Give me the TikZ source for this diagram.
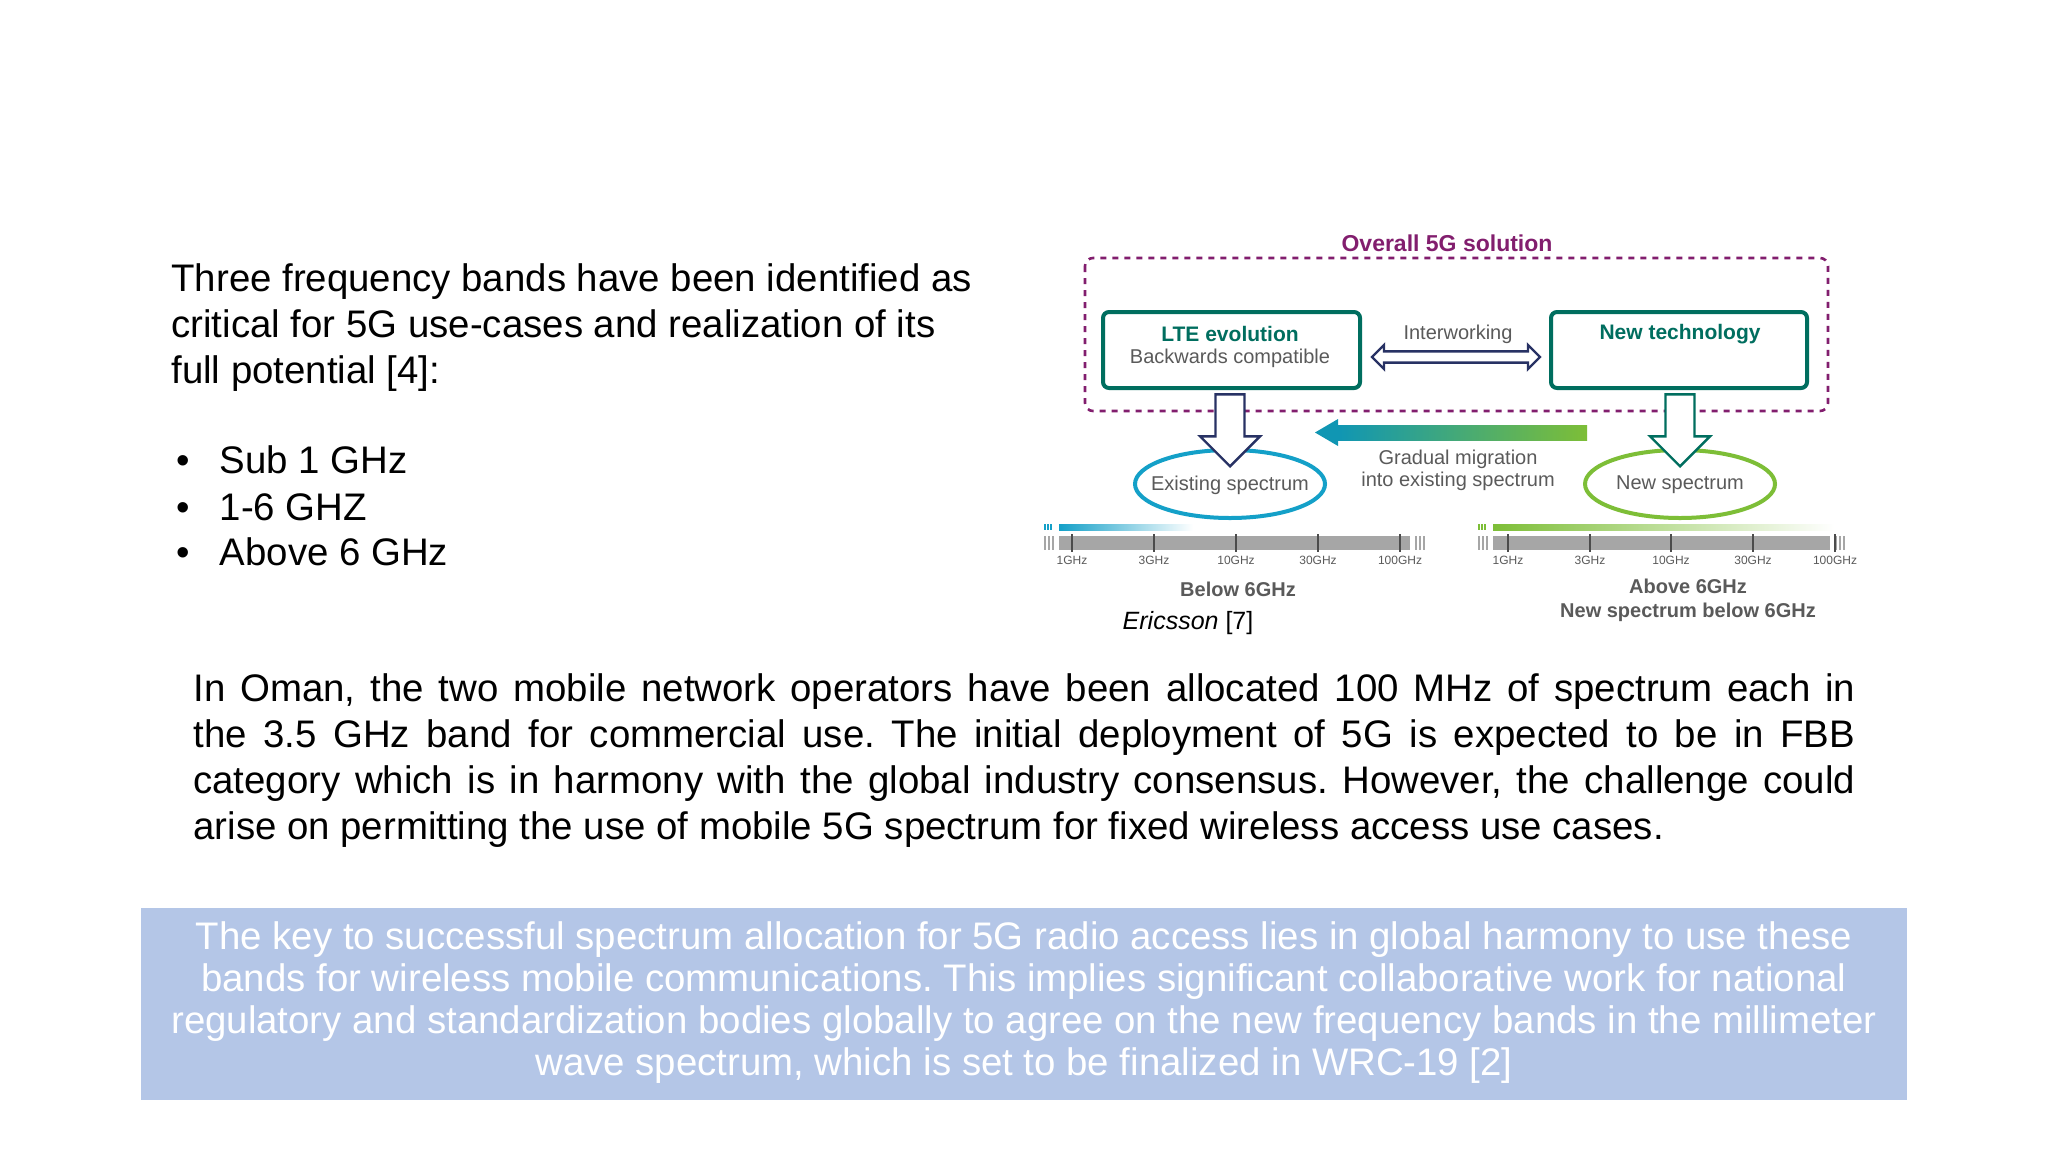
\documentclass[tikz,border=0pt]{standalone}
\usepackage{fontspec}
\setmainfont{Liberation Sans}
\usetikzlibrary{arrows.meta,shapes.arrows,shapes.geometric}
\definecolor{teal5}{RGB}{0,110,95}
\definecolor{navy5}{RGB}{40,50,100}
\definecolor{purp5}{RGB}{130,30,110}
\definecolor{cyan5}{RGB}{20,160,200}
\definecolor{green5}{RGB}{125,190,55}
\definecolor{gtext}{RGB}{90,90,90}
\definecolor{boxblue}{RGB}{180,198,231}
\frenchspacing
\begin{document}
\begin{tikzpicture}[x=0.5pt,y=-0.5pt,
  big/.style={font=\fontsize{19.2}{23}\selectfont,inner sep=0},
  dtext/.style={font=\fontsize{10}{12}\selectfont,text=gtext,inner sep=0},
  tbox/.style={draw=teal5,line width=2pt,rounded corners=3pt},
  darr/.style={single arrow,draw=navy5,fill=white,line width=1.2pt,shape border rotate=270,minimum height=36pt,minimum width=30pt,single arrow head extend=6pt,inner sep=5pt},
  ghz/.style={font=\fontsize{6}{7}\selectfont,text=gtext,inner sep=0},
  tlab/.style={font=\bfseries\fontsize{10.5}{12}\selectfont,text=teal5,inner sep=0}]
\useasboundingbox (0,0) rectangle (2048,1152);
\fill[white] (0,0) rectangle (2048,1152);
% left text
\node[big,anchor=north west,align=left] (intro) at (171,263) {Three frequency bands have been identified as\\critical for 5G use-cases and realization of its\\full potential [4]:};
\node[big,anchor=west] (b1) at (176,460) {\textbullet\hspace{15pt}Sub 1 GHz};
\node[big,anchor=west] (b2) at (176,507) {\textbullet\hspace{15pt}1-6 GHZ};
\node[big,anchor=west] (b3) at (176,552) {\textbullet\hspace{15pt}Above 6 GHz};
% paragraph
\node[big,anchor=north west,text width=831pt,align=justify] (para) at (193,673) {In Oman, the two mobile network operators have been allocated 100 MHz of spectrum each in\linebreak the 3.5 GHz band for commercial use. The initial deployment of 5G is expected to be in FBB\linebreak category which is in harmony with the global industry consensus. However, the challenge could\linebreak arise on permitting the use of mobile 5G spectrum for fixed wireless access use cases.};
% blue box
\fill[boxblue] (141,908) rectangle (1907,1100);
\node[font=\fontsize{19.2}{21}\selectfont,text=white,align=center,inner sep=0] (key) at (1024,1003) {The key to successful spectrum allocation for 5G radio access lies in global harmony to use these\\bands for wireless mobile communications. This implies significant collaborative work for national\\regulatory and standardization bodies globally to agree on the new frequency bands in the millimeter\\wave spectrum, which is set to be finalized in WRC-19 [2]};
% diagram
\node[font=\bfseries\fontsize{11.5}{13}\selectfont,text=purp5,inner sep=0] (title) at (1447,243) {Overall 5G solution};
\draw[purp5,dashed,line width=1.3pt,rounded corners=4pt] (1085,258) rectangle (1828,411);
\draw[tbox] (1103,312) rectangle (1360,388);
\draw[tbox] (1551,312) rectangle (1807,388);
\node[tlab] (lte) at (1230,334) {LTE evolution};
\node[dtext] (bc) at (1230,358) {Backwards compatible};
\node[tlab] (nt) at (1680,334) {New technology};
\node[dtext] (iw) at (1458,334) {Interworking};
\node[double arrow,draw=navy5,fill=white,line width=1.2pt,minimum height=84pt,minimum width=12pt,double arrow head extend=3pt,inner sep=2pt] (dbl) at (1456,357) {};
\node[draw=cyan5,line width=2pt,ellipse,minimum width=95pt,minimum height=34pt] (ex) at (1230,484) {};
\node[dtext] (ext) at (1230,485) {Existing spectrum};
\node[draw=green5,line width=2pt,ellipse,minimum width=95pt,minimum height=34pt] (ns) at (1680,484) {};
\node[dtext] (nst) at (1680,485) {New spectrum};
\node[darr,anchor=tip] (a1) at (1230,468) {};
\node[darr,anchor=tip,draw=teal5] (a2) at (1680,468) {};
\shade[left color=cyan5!80!teal5,right color=green5] (1338,425) rectangle (1587,440);
\fill[cyan5!80!teal5] (1338,419) -- (1315,432.5) -- (1338,446) -- cycle;
\node[dtext,align=center,font=\fontsize{10}{11}\selectfont] (gm) at (1458,470) {Gradual migration\\into existing spectrum};
% scales
\foreach \xa/\xb/\col/\xc in {1045/1424/cyan5/1193,1479/1844/green5/1834}{
  \fill[gray!70] (\xa+14,536) rectangle (\xb-14,550);
  \foreach \k in {0,4,8}{\draw[gray!70,line width=1pt] (\xa+\k,536) -- (\xa+\k,550);
    \draw[gray!70,line width=1pt] (\xb-\k,536) -- (\xb-\k,550);}
  \foreach \k in {0,3,6}{\draw[\col,line width=1pt] (\xa+\k,524) -- (\xa+\k,530);}
  \shade[left color=\col,right color=white] (\xa+14,524) rectangle (\xc,530);
}
\foreach \t/\x in {1GHz/1072,3GHz/1154,10GHz/1236,30GHz/1318,100GHz/1400}{
  \draw[black!70,line width=1pt] (\x,534) -- (\x,552);
  \node[ghz] at (\x,560) {\t};}
\foreach \t/\x in {1GHz/1508,3GHz/1590,10GHz/1671,30GHz/1753,100GHz/1835}{
  \draw[black!70,line width=1pt] (\x,534) -- (\x,552);
  \node[ghz] at (\x,560) {\t};}
\node[font=\bfseries\fontsize{10}{12}\selectfont,text=gtext,inner sep=0] (b6) at (1238,589) {Below 6GHz};
\node[font=\bfseries\fontsize{10}{12}\selectfont,text=gtext,inner sep=0,align=center] (a6) at (1688,600) {Above 6GHz\\New spectrum below 6GHz};
\node[font=\fontsize{12.5}{14}\selectfont,inner sep=0] (eri) at (1188,623) {\textit{Ericsson} [7]};
\end{tikzpicture}
\end{document}
